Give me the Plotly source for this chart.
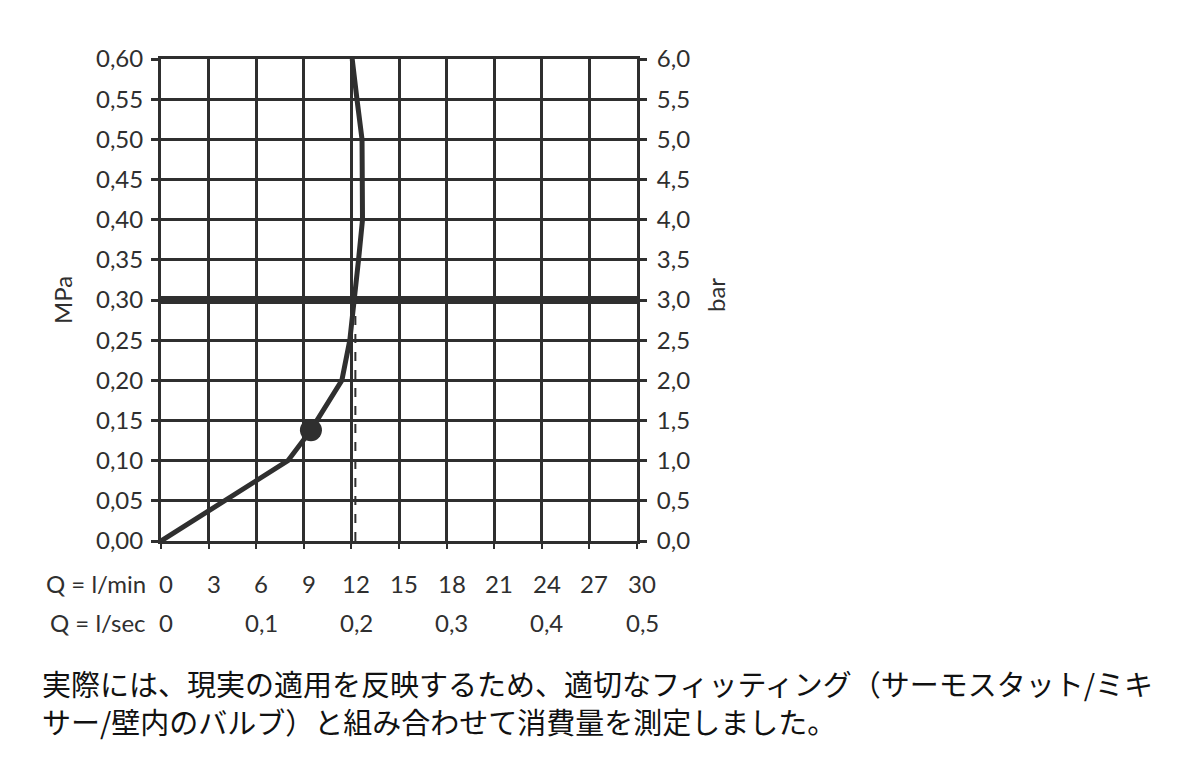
import plotly.graph_objects as go

# flow curve (l/min) vs pressure (MPa)
flow_lpm = [0, 8.0, 9.45, 11.4, 11.9, 12.2, 12.45, 12.7, 12.72, 12.67, 12.35, 12.05]
pressure_mpa = [0, 0.10, 0.138, 0.20, 0.25, 0.30, 0.35, 0.40, 0.45, 0.50, 0.55, 0.60]

# operating point marker
point_flow = 9.45
point_pressure = 0.138

# reference pressure line and flow at 0.3 MPa
ref_pressure = 0.30
ref_flow = 12.25

lpm_ticks = [0, 3, 6, 9, 12, 15, 18, 21, 24, 27, 30]
lps_ticks = [0, 6, 12, 18, 24, 30]
lps_labels = ["0", "0,1", "0,2", "0,3", "0,4", "0,5"]
mpa_ticks = [i * 0.05 for i in range(13)]
mpa_labels = ["0,00", "0,05", "0,10", "0,15", "0,20", "0,25", "0,30",
              "0,35", "0,40", "0,45", "0,50", "0,55", "0,60"]
bar_ticks = [i * 0.5 for i in range(13)]
bar_labels = ["0,0", "0,5", "1,0", "1,5", "2,0", "2,5", "3,0",
              "3,5", "4,0", "4,5", "5,0", "5,5", "6,0"]

caption = ("実際には、現実の適用を反映するため、適切なフィッティング（サーモスタット/ミキ<br>"
           "サー/壁内のバルブ）と組み合わせて消費量を測定しました。")

ink = "#2f2f2f"
font_main = "Lato, 'Noto Sans', sans-serif"
tick_size = 24

fig = go.Figure()

# reference line at 0.3 MPa
fig.add_trace(go.Scatter(x=[0, 30], y=[ref_pressure, ref_pressure], mode="lines",
                         line=dict(color=ink, width=8), showlegend=False, hoverinfo="skip"))
# dashed drop line
fig.add_trace(go.Scatter(x=[ref_flow, ref_flow], y=[0.28, 0], mode="lines",
                         line=dict(color=ink, width=2, dash="dash"), showlegend=False))
# main curve
fig.add_trace(go.Scatter(x=flow_lpm, y=pressure_mpa, mode="lines",
                         line=dict(color=ink, width=5), showlegend=False))
fig.add_trace(go.Scatter(x=[point_flow], y=[point_pressure], mode="markers",
                         marker=dict(color=ink, size=22), showlegend=False))
# invisible trace to draw bar axis
fig.add_trace(go.Scatter(x=[0, 30], y=[0, 6], mode="markers", yaxis="y2",
                         marker=dict(opacity=0), showlegend=False, hoverinfo="skip"))

# plot area in pixels (page has an 8px body margin)
left, right, top, bottom = 161, 637, 59, 541
pw, ph = right - left, bottom - top


def px(x):
    return (x - left) / pw


def py(y):
    return (bottom - y) / ph


def label(x, y, text, xref="paper", **kw):
    d = dict(x=x, y=py(y), xref=xref, yref="paper", text=text, showarrow=False,
             xanchor="center", yanchor="middle", font=dict(size=tick_size, color=ink))
    d.update(kw)
    return d


annotations = []
# bottom tick rows
for v in lpm_ticks:
    annotations.append(label(v, 583, str(v), xref="x", xshift=5))
for v, t in zip(lps_ticks, lps_labels):
    annotations.append(label(v, 622, t, xref="x", xshift=5))
for row_y, t in [(583, "Q = l/min"), (622, "Q = l/sec")]:
    annotations.append(label(px(148), row_y, t, xanchor="right"))
# axis titles
annotations.append(label(px(62), 300, "MPa", textangle=-90))
annotations.append(label(px(715), 295, "bar", textangle=-90))
# caption
annotations.append(label(px(40), 702, caption, xanchor="left", align="left",
                         font=dict(size=29, color="#111",
                                   family="'Noto Sans CJK JP', sans-serif")))

off = 8
fig.update_layout(
    width=1200, height=765,
    margin=dict(l=left - off, r=1200 - right + off, t=top - off, b=765 - bottom + off),
    plot_bgcolor="white", paper_bgcolor="white",
    font=dict(family=font_main, size=tick_size, color=ink),
    xaxis=dict(range=[0, 30], tickvals=lpm_ticks, showticklabels=False,
               showgrid=True, gridcolor=ink, gridwidth=3, zeroline=False,
               showline=True, linecolor=ink, linewidth=3, mirror=True,
               ticks="outside", ticklen=5, tickwidth=2, tickcolor=ink),
    yaxis=dict(range=[0, 0.6], tickvals=mpa_ticks, ticktext=mpa_labels,
               showgrid=True, gridcolor=ink, gridwidth=3, zeroline=False,
               showline=True, linecolor=ink, linewidth=3,
               ticks="outside", ticklen=7, tickwidth=3, tickcolor=ink,
               ticklabelstandoff=3),
    yaxis2=dict(range=[0, 6], tickvals=bar_ticks, ticktext=bar_labels,
                overlaying="y", side="right", showgrid=False, zeroline=False,
                showline=True, linecolor=ink, linewidth=3,
                ticks="outside", ticklen=7, tickwidth=3, tickcolor=ink,
                ticklabelstandoff=5),
    annotations=annotations,
)

fig.write_html("out.html")
